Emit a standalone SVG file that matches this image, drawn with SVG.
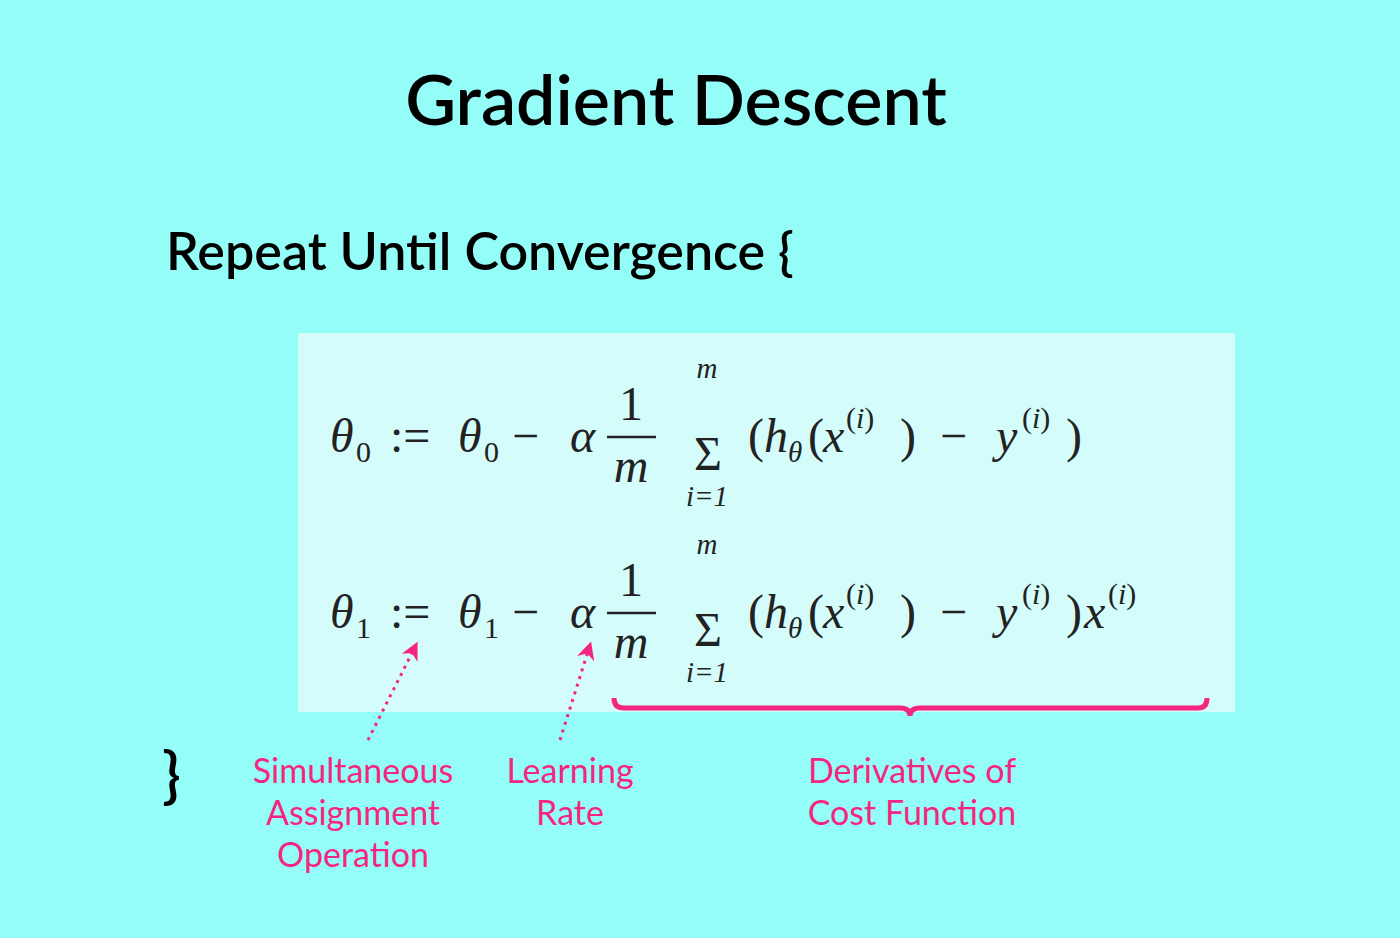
<svg xmlns="http://www.w3.org/2000/svg" width="1400" height="938" viewBox="0 0 1400 938">
<style>
.h{font-family:"Lato","Open Sans",sans-serif;fill:#000;font-weight:600}
.m{font-family:"Liberation Serif",serif;font-size:48px;fill:#222}
.i{font-style:italic}
.sb{font-family:"Liberation Serif",serif;font-size:30px;fill:#222}
.s{font-family:"Liberation Serif",serif;font-size:29px;fill:#222;font-style:italic}
.p{font-family:"Lato","Open Sans",sans-serif;font-size:34px;fill:#F5267F;text-anchor:middle}
.a{stroke:#F5267F;stroke-width:3;stroke-dasharray:3 5;fill:none}
</style>
<defs><marker id="ah" viewBox="0 0 10 10" refX="8" refY="5" markerWidth="6" markerHeight="6" orient="auto"><path d="M0,0L10,5L0,10L3,5z" fill="#F5267F"/></marker></defs>
<rect width="1400" height="938" fill="#94FDF7"/>
<rect x="298" y="333" width="937" height="379" fill="#D4FCFB"/>
<text class="h" x="676" y="125" font-size="70" text-anchor="middle">Gradient Descent</text>
<text class="h" x="166" y="270" font-size="52">Repeat Until Convergence {</text>
<text class="h" x="162" y="797" font-size="62">}</text>
<g id="eq1">
<text class="m i" x="330" y="452">θ</text><text class="sb" x="356" y="462">0</text>
<text class="m" x="390" y="452">:=</text>
<text class="m i" x="458" y="452">θ</text><text class="sb" x="484" y="462">0</text>
<text class="m" x="512" y="452">−</text>
<text class="m i" x="570" y="452">α</text>
<text class="m" x="631" y="420" text-anchor="middle">1</text>
<line x1="607" y1="437" x2="656" y2="437" stroke="#222" stroke-width="2.5"/>
<text class="m i" x="631" y="482" text-anchor="middle">m</text>
<text class="m" x="708" y="470" font-size="96" text-anchor="middle">Σ</text>
<text class="s" x="707" y="378" text-anchor="middle">m</text>
<text class="s" x="707" y="506" text-anchor="middle">i=1</text>
<text class="m" x="748" y="452">(</text><text class="m i" x="764" y="452">h</text><text class="s" x="788" y="462" font-size="26">θ</text>
<text class="m" x="808" y="452">(</text><text class="m i" x="823" y="452">x</text><text class="sb" x="846" y="428">(<tspan class="i">i</tspan>)</text>
<text class="m" x="900" y="452">)</text><text class="m" x="940" y="452">−</text>
<text class="m i" x="996" y="452">y</text><text class="sb" x="1022" y="428">(<tspan class="i">i</tspan>)</text>
<text class="m" x="1066" y="452">)</text>
</g>
<g id="eq2">
<text class="m i" x="330" y="628">θ</text><text class="sb" x="356" y="638">1</text>
<text class="m" x="390" y="628">:=</text>
<text class="m i" x="458" y="628">θ</text><text class="sb" x="484" y="638">1</text>
<text class="m" x="512" y="628">−</text>
<text class="m i" x="570" y="628">α</text>
<text class="m" x="631" y="596" text-anchor="middle">1</text>
<line x1="607" y1="613" x2="656" y2="613" stroke="#222" stroke-width="2.5"/>
<text class="m i" x="631" y="658" text-anchor="middle">m</text>
<text class="m" x="708" y="646" font-size="96" text-anchor="middle">Σ</text>
<text class="s" x="707" y="554" text-anchor="middle">m</text>
<text class="s" x="707" y="682" text-anchor="middle">i=1</text>
<text class="m" x="748" y="628">(</text><text class="m i" x="764" y="628">h</text><text class="s" x="788" y="638" font-size="26">θ</text>
<text class="m" x="808" y="628">(</text><text class="m i" x="823" y="628">x</text><text class="sb" x="846" y="604">(<tspan class="i">i</tspan>)</text>
<text class="m" x="900" y="628">)</text><text class="m" x="940" y="628">−</text>
<text class="m i" x="996" y="628">y</text><text class="sb" x="1022" y="604">(<tspan class="i">i</tspan>)</text>
<text class="m" x="1066" y="628">)</text><text class="m i" x="1084" y="628">x</text><text class="sb" x="1108" y="604">(<tspan class="i">i</tspan>)</text>
</g>
<g id="connectors">
<line class="a" x1="368" y1="740" x2="416" y2="645" marker-end="url(#ah)"/>
<line class="a" x1="560" y1="740" x2="590" y2="645" marker-end="url(#ah)"/>
<path d="M614,698 Q614,708 624,708 L900,708 Q910,708 910,716 Q910,708 920,708 L1198,708 Q1207,708 1207,698" stroke="#F5267F" stroke-width="5" fill="none"/>
</g>
<g id="labels">
<text class="p" x="353" y="783">Simultaneous</text>
<text class="p" x="353" y="825">Assignment</text>
<text class="p" x="353" y="867">Operation</text>
<text class="p" x="570" y="783">Learning</text>
<text class="p" x="570" y="825">Rate</text>
<text class="p" x="912" y="783">Derivatives of</text>
<text class="p" x="912" y="825">Cost Function</text>
</g>
</svg>
